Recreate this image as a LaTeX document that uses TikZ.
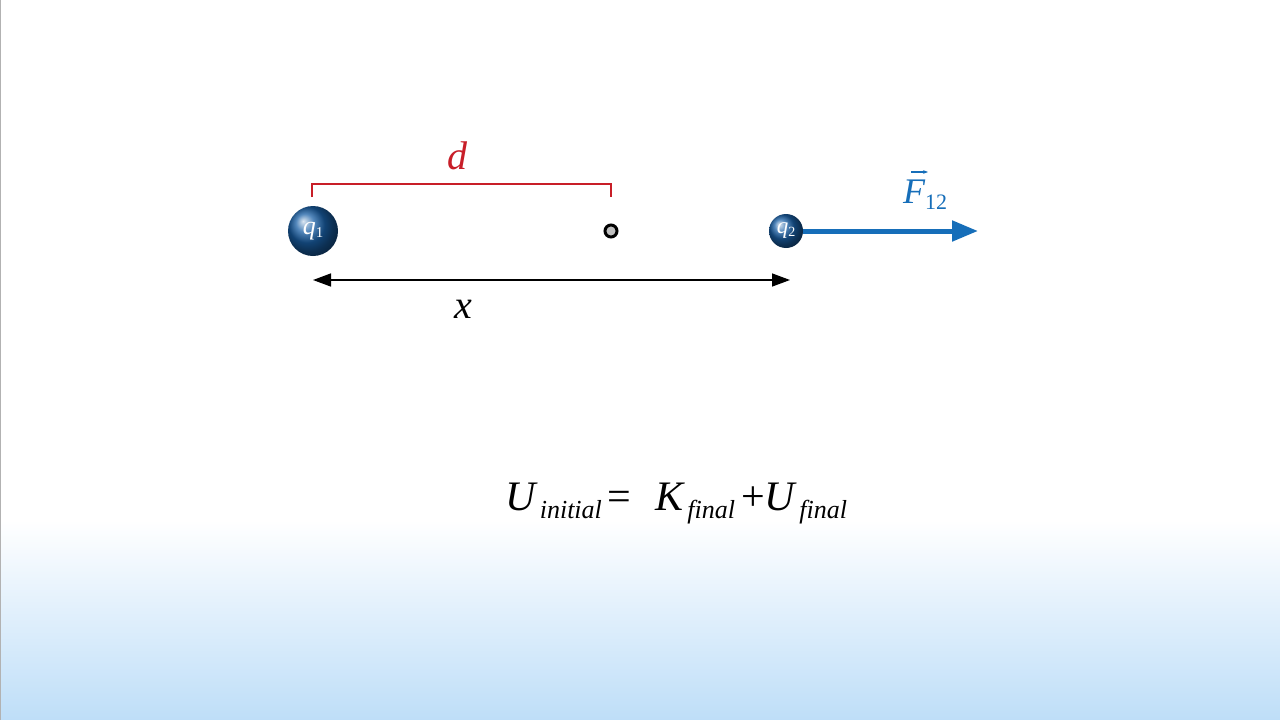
\documentclass[tikz,border=0pt]{standalone}
\usepackage{fontspec}
\setmainfont{Liberation Serif}
\usetikzlibrary{arrows.meta}
\definecolor{fblue}{RGB}{22,110,185}
\definecolor{ballblue}{RGB}{25,95,165}
\definecolor{dred}{RGB}{200,30,40}
\definecolor{skyb}{RGB}{190,222,248}
\tikzset{
  ball/.style={circle,ball color=ballblue,inner sep=0pt,text=white,font=\itshape},
  lbl/.style={inner sep=0pt,font=\itshape}
}
\begin{document}
\begin{tikzpicture}[x=1pt,y=-1pt]
\useasboundingbox (0,0) rectangle (1280,720);
\fill[white] (0,0) rectangle (1280,720);
\shade[top color=white,bottom color=skyb] (0,520) rectangle (1280,720);
\draw[gray!60,line width=1.5pt] (0.5,0) -- (0.5,720);
% balls
\node[ball,minimum size=50] (q1) at (313,231) {\fontsize{26}{26}\selectfont q\raisebox{-3pt}{\fontsize{15}{15}\selectfont\upshape 1}};
\node[ball,minimum size=34] (q2) at (786,231) {\fontsize{23}{23}\selectfont q\raisebox{-3pt}{\fontsize{14}{14}\selectfont\upshape 2}};
\node[circle,draw=black,line width=3pt,fill=gray!50,minimum size=12,inner sep=0pt] (p) at (611,231) {};
% force arrow
\coordinate (ftip) at (978,231);
\draw[fblue,line width=5pt,-{Triangle[length=26pt,width=20pt]}] (q2.east) -- (ftip);
\node[lbl,text=fblue] (F) at (925,195) {\fontsize{36}{36}\selectfont F\raisebox{-6pt}{\fontsize{22}{22}\selectfont\upshape 12}};
\draw[fblue,line width=1.2pt,-{Stealth[length=5pt]}] (911,172) -- (928,172);
% d bracket
\coordinate (d1) at (312,197); \coordinate (d2) at (611,197);
\draw[dred,line width=1.2pt] (d1) -- (312,184) -- (611,184) -- (d2);
\node[lbl,text=dred] (d) at (457,156) {\fontsize{40}{40}\selectfont d};
% x arrow
\coordinate (x1) at (313,280); \coordinate (x2) at (790,280);
\draw[line width=1.5pt,{Triangle[length=18pt,width=13pt]}-{Triangle[length=18pt,width=13pt]}] (x1) -- (x2);
\node[lbl] (x) at (463,309) {\fontsize{40}{40}\selectfont x};
% equation
\node[inner sep=0pt,anchor=base west] (eq) at (505,510) {\fontsize{42}{42}\selectfont
 \textit{U}\hspace{2pt}\raisebox{-8pt}{\fontsize{26}{26}\selectfont\textit{initial}}\hspace{6pt}=\hspace{24pt}\textit{K}\hspace{2pt}\raisebox{-8pt}{\fontsize{26}{26}\selectfont\textit{final}}\hspace{6pt}+\textit{U}\hspace{2pt}\raisebox{-8pt}{\fontsize{26}{26}\selectfont\textit{final}}};
\end{tikzpicture}
\end{document}
